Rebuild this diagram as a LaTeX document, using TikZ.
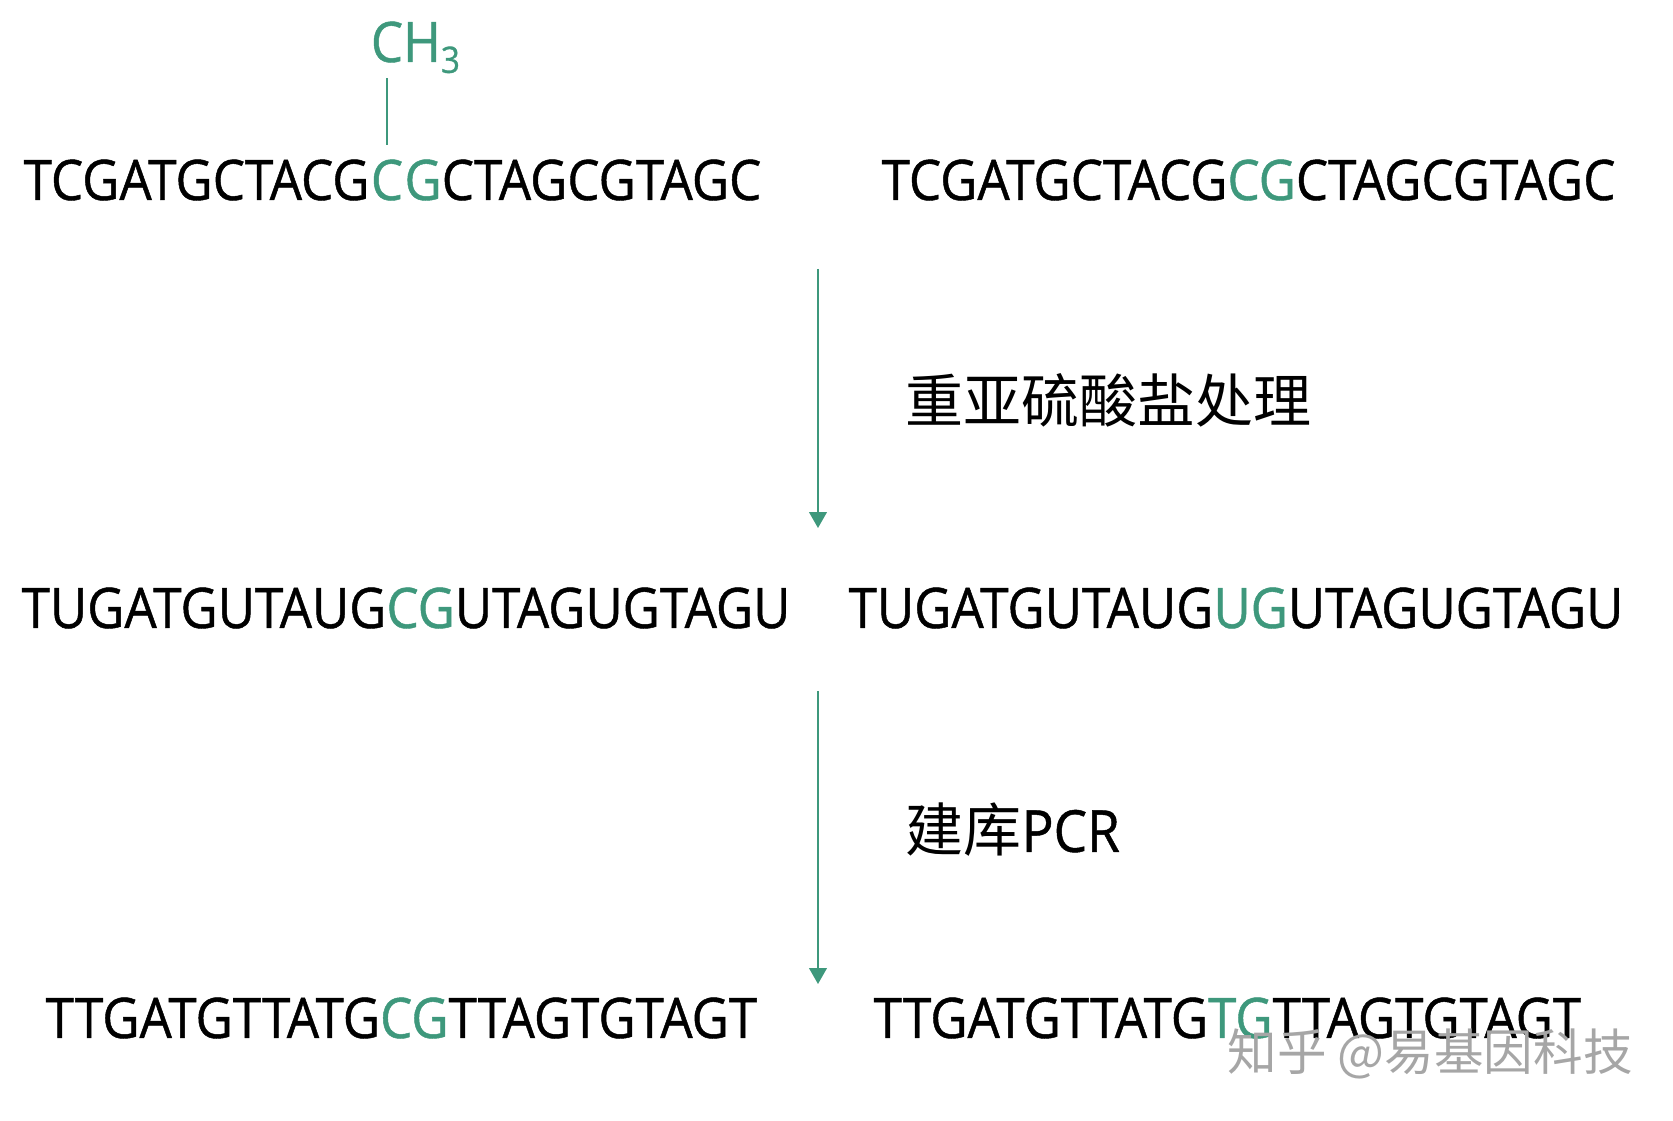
\documentclass[tikz,border=0pt]{standalone}
\usepackage{fontspec}
\usepackage{xcolor}
\usetikzlibrary{arrows.meta,positioning}
\newfontfamily\seqfont[FakeStretch=0.915,FakeBold=0.8]{Open Sans}
\newfontfamily\cjk{Noto Sans CJK SC}
\definecolor{dnagreen}{RGB}{62,152,124}
\newcommand{\hl}[1]{\textcolor{dnagreen}{#1}}
\tikzset{seq/.style={inner sep=0pt, anchor=base west, font=\seqfont\fontsize{15.9}{18}\selectfont},
	meth/.style={inner sep=0pt, anchor=base west, text=dnagreen, font=\seqfont\fontsize{15.9}{18}\selectfont},
	treat/.style={inner sep=0pt, anchor=west, font=\cjk\fontsize{16.5}{19}\selectfont},
	flow/.style={draw=dnagreen, line width=0.5pt, -{Triangle[width=5pt,length=4.5pt]}},
	bond/.style={draw=dnagreen, line width=0.8pt}}
\begin{document}
\begin{tikzpicture}
		\useasboundingbox (0,0) rectangle (16.73,-11.21);
		% original strands
		\node[seq] (tl) at (0.23,-2.00) {TCGATGCTACG};
		\node[seq, text=dnagreen] (mc) at (tl.base east) {C};
		\node[seq] (tl2) at (mc.base east) {\hl{G}CTAGCGTAGC};
		\node[meth] (ch3) at ([yshift=1.38cm]mc.base west) {CH\raisebox{-3.1pt}{\fontsize{10.4}{11}\selectfont 3}};
		\draw[bond] ([yshift=0.14cm]mc.north) -- ([yshift=-0.16cm]mc.north |- ch3.base);
		\node[seq] (tr) at (8.81,-2.00) {TCGATGCTACG\hl{CG}CTAGCGTAGC};
		% bisulfite
		\coordinate (a1s) at (8.18,-2.69);
		\coordinate (a1e) at (8.18,-5.28);
		\draw[flow] (a1s) -- (a1e);
		\node[treat] (bis) at (9.05,-4.00) {重亚硫酸盐处理};
		\node[seq] (ml) at (0.21,-6.28) {TUGATGUTAUG\hl{CG}UTAGUGTAGU};
		\node[seq] (mr) at (8.48,-6.28) {TUGATGUTAUG\hl{UG}UTAGUGTAGU};
		% library PCR
		\coordinate (a2s) at (8.18,-6.91);
		\coordinate (a2e) at (8.18,-9.84);
		\draw[flow] (a2s) -- (a2e);
		\node[treat] (pcr) at (9.05,-8.30) {建库{\seqfont\fontsize{16.5}{19}\selectfont PCR}};
		\node[seq] (bl) at (0.45,-10.38) {TTGATGTTATG\hl{CG}TTAGTGTAGT};
		\node[seq] (br) at (8.73,-10.38) {TTGATGTTATG\hl{TG}TTAGTGTAGT};
		% watermark
		\node[treat, text=black!35, font=\cjk\fontsize{14.1}{16}\selectfont] (wm) at (12.27,-10.54) {知乎 @易基因科技};
\end{tikzpicture}
\end{document}
